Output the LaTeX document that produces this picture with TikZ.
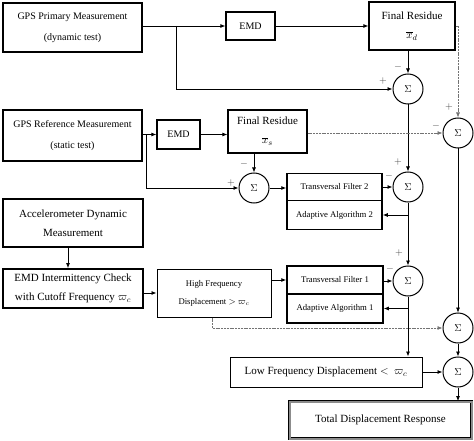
\documentclass[tikz,border=0pt]{standalone}
\usepackage{fontspec}
\setmainfont{Liberation Serif}
\usetikzlibrary{arrows.meta,calc}
\begin{document}
\begin{tikzpicture}[x=1pt,y=-1pt,
  >={Latex[length=5pt,width=4pt]},
  conn/.style={line width=0.8pt,->},
  plainline/.style={line width=0.8pt},
  grayconn/.style={draw=black!55,line width=0.7pt,dash pattern=on 2pt off 0.8pt,->},
  box/.style={draw,line width=1pt,inner sep=0pt,align=center},
  heavybox/.style={box,line width=2.8pt},
  midbox/.style={box,line width=1.8pt},
  sumnode/.style={circle,draw,line width=1pt,minimum size=30pt,inner sep=0pt,font=\normalsize},
  pm/.style={inner sep=0pt,font=\fontsize{10}{10}\selectfont,text=black!75},
  smallfont/.style={font=\fontsize{8.7}{18}\selectfont},
  midfont/.style={font=\fontsize{10}{21}\selectfont},
  bigfont/.style={font=\fontsize{11}{19}\selectfont}]
\useasboundingbox (0,0) rectangle (474,441);

% boxes
\node[heavybox,midfont,minimum width=139,minimum height=49] (gpsP) at (72.5,27.5) {GPS Primary Measurement\\(dynamic test)};
\node[box,midfont,line width=1.3pt,minimum width=49,minimum height=28] (emdA) at (250.5,26) {EMD};
\node[box,bigfont,line width=1.3pt,minimum width=86,minimum height=48] (frD) at (412,26) {Final Residue\\$\overline{x}_d$};
\node[sumnode] (s1) at (408,89) {$\Sigma$};

\node[heavybox,midfont,minimum width=139,minimum height=51] (gpsR) at (72.5,135.5) {GPS Reference Measurement\\(static test)};
\node[box,midfont,line width=1.3pt,minimum width=43,minimum height=29] (emdB) at (178.5,134.5) {EMD};
\node[box,bigfont,line width=1.3pt,minimum width=79,minimum height=43] (frS) at (267.5,131.5) {Final Residue\\$\overline{x}_s$};
\node[sumnode] (s2) at (458,133) {$\Sigma$};
\node[sumnode] (s4) at (254,188) {$\Sigma$};
\node[box,smallfont,line width=1.5pt,minimum width=95,minimum height=27] (tf2) at (334.5,187) {Transversal Filter 2};
\node[box,smallfont,line width=1.5pt,minimum width=95,minimum height=29] (aa2) at (334.5,215) {Adaptive Algorithm 2};
\node[sumnode] (s3) at (408,187) {$\Sigma$};

\node[heavybox,bigfont,minimum width=140,minimum height=48] (acc) at (73,223) {Accelerometer Dynamic\\Measurement};
\node[midbox,bigfont,minimum width=140,minimum height=39] (emdI) at (73,288.5) {EMD Intermittency Check\\with Cutoff Frequency $\varpi_c$};
\node[box,smallfont,minimum width=114,minimum height=48] (hfd) at (214,293) {High Frequency\\Displacement $>$ $\varpi_c$};
\node[box,smallfont,line width=1.5pt,minimum width=96,minimum height=28] (tf1) at (335,280) {Transversal Filter 1};
\node[box,smallfont,line width=1.5pt,minimum width=96,minimum height=29] (aa1) at (335,308.5) {Adaptive Algorithm 1};
\node[sumnode] (s5) at (408,281) {$\Sigma$};
\node[sumnode] (s6) at (458,328) {$\Sigma$};
\node[box,bigfont,minimum width=192,minimum height=30] (lfd) at (326,372) {Low Frequency Displacement $<$\ \ $\varpi_c$};
\node[sumnode] (s7) at (458,372) {$\Sigma$};
\node[box,bigfont,line width=0.8pt,double=black!45,double distance=2pt,minimum width=182,minimum height=37] (tdr) at (380.5,420) {Total Displacement Response};

% signs
\node[pm] (p1) at (383,81) {$+$};
\node[pm] (m1) at (398,67) {$-$};
\node[pm] (p2) at (449,107) {$+$};
\node[pm] (m2) at (436,126) {$-$};
\node[pm] (p3) at (398,162) {$+$};
\node[pm] (m3) at (389,176) {$-$};
\node[pm] (p4) at (231,183) {$+$};
\node[pm] (m4) at (244,164) {$-$};
\node[pm] (p5) at (399,253) {$+$};
\node[pm] (m5) at (390,269) {$-$};

% coordinates
\coordinate (b1) at (176,26);
\coordinate (b2) at (146,134.5);
\coordinate (b3) at (408,215);
\coordinate (b4) at (408,308.5);
\coordinate (b5) at (212,328);

% connectors
\draw[conn] (gpsP.east |- emdA) -- (emdA.west);
\draw[conn] (b1) |- (s1.west);
\draw[conn] (emdA.east) -- (frD.west |- emdA);
\draw[conn] (s1 |- frD.south) -- (s1.north);
\draw[grayconn] (frD.east) -| (s2.north);
\draw[conn] (s1.south) -- (s3.north);

\draw[conn] (gpsR.east |- emdB) -- (emdB.west);
\draw[conn] (b2) |- (s4.west);
\draw[conn] (emdB.east) -- (frS.west |- emdB);
\draw[conn] (s4 |- frS.south) -- (s4.north);
\draw[grayconn] (frS.east |- s2) -- (s2.west);
\draw[conn] (s4.east) -- (tf2.west |- s4);
\draw[conn] (tf2.east |- s3) -- (s3.west);
\draw[conn] (s3.south) -- (s5.north);
\draw[conn] (b3) -- (aa2.east |- b3);

\draw[conn] ([xshift=-5pt]acc.south) -- ([xshift=-5pt]emdI.north);
\draw[conn] (emdI.east |- hfd) -- (hfd.west);
\draw[conn] (hfd.east |- tf1) -- (tf1.west);
\draw[conn] (tf1.east |- s5) -- (s5.west);
\draw[conn] (s5.south) -- (s5 |- lfd.north);
\draw[conn] (b4) -- (aa1.east |- b4);
\draw[grayconn] (hfd.south -| b5) |- (s6.west);
\draw[conn,line width=0.6pt] (s2.south) -- (s6.north);
\draw[conn] (s6.south) -- (s7.north);
\draw[conn] (lfd.east |- s7) -- (s7.west);
\draw[conn] (s7.south) -- (s7 |- tdr.north);
\end{tikzpicture}
\end{document}
